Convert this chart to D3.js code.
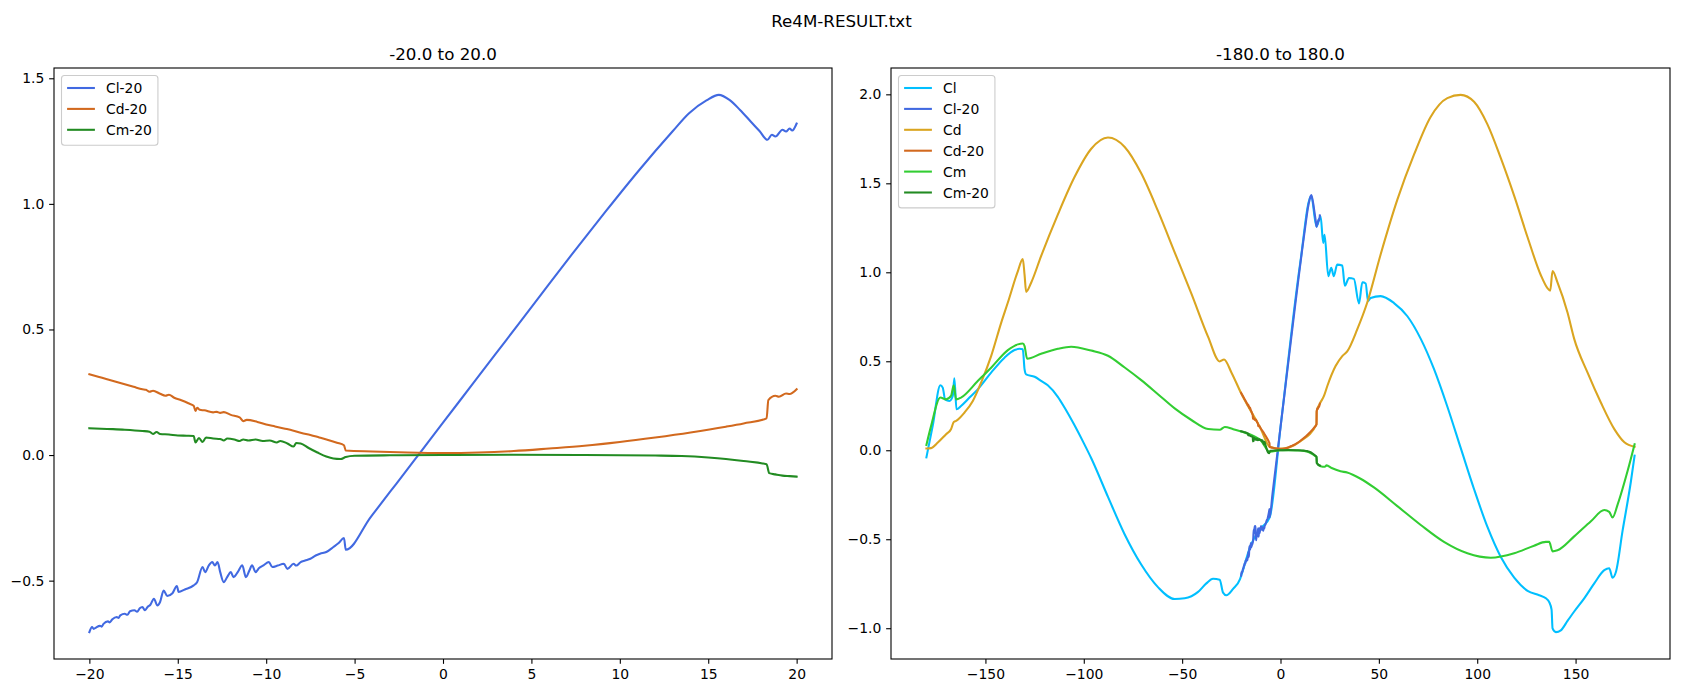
<!DOCTYPE html>
<html>
<head>
<meta charset="utf-8">
<script src="https://cdn.jsdelivr.net/npm/d3@7"></script>
<style>
  body { margin: 0; background: #fff; }
  text { font-family: "DejaVu Sans", sans-serif; fill: #000; }
</style>
</head>
<body>
<svg width="1683" height="698"></svg>
<script>

// ---- data: [alpha, coeff] ----
const cl20 = [[-20.0,-0.705],[-19.85,-0.685],[-19.75,-0.692],[-19.65,-0.688],[-19.4,-0.680],[-19.3,-0.683],[-19.2,-0.672],[-18.95,-0.662],[-18.85,-0.666],[-18.7,-0.654],[-18.45,-0.645],[-18.35,-0.649],[-18.25,-0.638],[-18.0,-0.632],[-17.85,-0.636],[-17.7,-0.622],[-17.45,-0.618],[-17.3,-0.624],[-17.15,-0.610],[-17.0,-0.605],[-16.85,-0.618],[-16.7,-0.604],[-16.55,-0.596],[-16.35,-0.572],[-16.15,-0.599],[-16.0,-0.585],[-15.8,-0.539],[-15.6,-0.561],[-15.3,-0.550],[-15.05,-0.521],[-14.95,-0.545],[-14.6,-0.535],[-14.1,-0.519],[-13.9,-0.505],[-13.6,-0.446],[-13.45,-0.466],[-13.25,-0.440],[-13.05,-0.426],[-12.9,-0.440],[-12.75,-0.426],[-12.6,-0.466],[-12.4,-0.506],[-12.2,-0.485],[-12.0,-0.466],[-11.85,-0.486],[-11.6,-0.465],[-11.35,-0.439],[-11.15,-0.486],[-10.95,-0.460],[-10.8,-0.439],[-10.6,-0.466],[-10.4,-0.450],[-10.15,-0.439],[-9.85,-0.426],[-9.65,-0.446],[-9.35,-0.440],[-9.0,-0.433],[-8.8,-0.453],[-8.45,-0.433],[-8.3,-0.440],[-8.05,-0.426],[-7.8,-0.420],[-7.5,-0.413],[-7.2,-0.400],[-6.95,-0.393],[-6.6,-0.386],[-6.2,-0.366],[-5.9,-0.350],[-5.6,-0.330],[-5.5,-0.377],[-4.1,-0.248],[-3.0,-0.147],[-2.2,-0.074],[-1.3,0.009],[0.0,0.129],[1.7,0.285],[3.6,0.460],[5.5,0.635],[7.3,0.800],[9.2,0.970],[11.1,1.135],[13.0,1.290],[13.9,1.360],[14.9,1.412],[15.6,1.434],[16.2,1.414],[16.8,1.374],[17.4,1.328],[17.9,1.290],[18.35,1.255],[18.6,1.275],[18.8,1.268],[19.2,1.295],[19.4,1.288],[19.6,1.300],[19.75,1.292],[20.0,1.320]];

const cd20 = [[-20,0.322],[-19.5,0.312],[-19,0.302],[-18.5,0.292],[-18,0.282],[-17.5,0.272],[-17,0.262],[-16.8,0.260],[-16.6,0.252],[-16.4,0.256],[-16.0,0.244],[-15.7,0.236],[-15.5,0.240],[-15.2,0.228],[-14.8,0.218],[-14.4,0.206],[-14.1,0.196],[-14.0,0.176],[-13.9,0.188],[-13.75,0.180],[-13.5,0.178],[-13.0,0.170],[-12.8,0.172],[-12.6,0.168],[-12.4,0.171],[-12.0,0.160],[-11.5,0.150],[-11.3,0.135],[-11.1,0.140],[-10.5,0.132],[-10.0,0.122],[-9.5,0.114],[-9.0,0.106],[-8.5,0.098],[-8.0,0.088],[-7.5,0.080],[-7.0,0.070],[-6.5,0.060],[-6.0,0.049],[-5.6,0.039],[-5.5,0.018],[-4,0.014],[-2,0.010],[0,0.008],[2,0.010],[4,0.016],[6,0.026],[8,0.037],[10,0.052],[12,0.070],[14,0.090],[16,0.113],[17,0.126],[18.3,0.146],[18.4,0.219],[18.8,0.236],[19.0,0.232],[19.4,0.245],[19.6,0.243],[20.0,0.262]];

const cm20 = [[-20,0.107],[-19,0.104],[-18,0.101],[-17,0.096],[-16.6,0.093],[-16.4,0.084],[-16.2,0.092],[-16.0,0.084],[-15.5,0.082],[-15,0.078],[-14.5,0.077],[-14.1,0.076],[-14.0,0.050],[-13.8,0.068],[-13.6,0.052],[-13.4,0.070],[-13,0.066],[-12.6,0.064],[-12.4,0.058],[-12.2,0.066],[-11.8,0.062],[-11.5,0.056],[-11.3,0.062],[-11,0.058],[-10.6,0.062],[-10.2,0.056],[-9.8,0.058],[-9.4,0.050],[-9.2,0.056],[-8.8,0.046],[-8.45,0.034],[-8.3,0.048],[-8.05,0.046],[-7.6,0.028],[-7.1,0.010],[-6.6,-0.006],[-6.2,-0.014],[-5.8,-0.016],[-5.5,-0.008],[-5.0,-0.003],[-3,-0.001],[0,0.000],[4,0.001],[8,0.000],[12,-0.002],[13.5,-0.004],[15,-0.010],[16,-0.016],[17,-0.024],[18.3,-0.037],[18.45,-0.072],[18.8,-0.077],[19.2,-0.082],[19.6,-0.084],[20,-0.086]];

const clFull = [[-180,-0.040],[-176.8,0.137],[-172.9,0.365],[-171.7,0.352],[-170.5,0.286],[-168.3,0.277],[-166.6,0.305],[-165.8,0.404],[-164.7,0.230],[-162.4,0.249],[-158.1,0.296],[-153.9,0.342],[-147.1,0.436],[-140.3,0.520],[-135.2,0.563],[-132.7,0.570],[-131.0,0.567],[-130.1,0.454],[-129.3,0.426],[-125.0,0.413],[-121.7,0.390],[-118.3,0.365],[-113.2,0.300],[-109.8,0.240],[-104.7,0.140],[-100,0.040],[-96.2,-0.045],[-87.7,-0.262],[-79.2,-0.473],[-70.8,-0.642],[-62.3,-0.769],[-53.8,-0.836],[-48.7,-0.832],[-41.9,-0.796],[-37.7,-0.748],[-34.3,-0.722],[-30.9,-0.727],[-29.2,-0.800],[-27.5,-0.815],[-24.1,-0.779],[-20.7,-0.727],[-20,-0.705],[-15,-0.530],[-10,-0.440],[-5.5,-0.377],[0,0.129],[10,1.050],[15.6,1.430],[18.3,1.258],[20.4,1.314],[21.7,1.165],[22.4,1.211],[24.3,0.978],[25.8,1.025],[27.1,0.978],[28.8,1.043],[31.4,1.038],[32.7,0.925],[34.8,0.968],[37.3,0.963],[39.9,0.825],[41.6,0.944],[43.3,0.937],[44.5,0.838],[45.8,0.856],[50.9,0.866],[57.7,0.827],[64.5,0.753],[71.3,0.626],[78.0,0.457],[84.8,0.246],[91.6,0.013],[98.4,-0.219],[105.2,-0.431],[112.0,-0.600],[118.8,-0.716],[125.6,-0.790],[131.5,-0.815],[134.9,-0.832],[136.6,-0.853],[137.8,-0.896],[138.3,-1.001],[140.0,-1.022],[142.5,-1.012],[145.9,-0.959],[149.3,-0.906],[154.4,-0.832],[159.5,-0.748],[164.6,-0.674],[167.1,-0.663],[168.8,-0.716],[170.5,-0.684],[173.9,-0.452],[178.1,-0.177],[180,-0.030]];

const cdFull = [[-180,0.010],[-177.6,0.012],[-174.2,0.043],[-170.0,0.090],[-167.5,0.118],[-166.1,0.159],[-164.9,0.165],[-160.7,0.211],[-156.4,0.277],[-152.2,0.380],[-147.1,0.529],[-142.0,0.716],[-138.6,0.830],[-133.5,1.007],[-131.0,1.075],[-130.1,0.985],[-129.3,0.890],[-126.7,0.943],[-121.7,1.091],[-113.2,1.324],[-104.7,1.535],[-96.2,1.694],[-87.7,1.757],[-79.2,1.704],[-70.8,1.556],[-62.3,1.345],[-53.8,1.112],[-45.3,0.880],[-36.8,0.637],[-30.9,0.499],[-28.7,0.510],[-24.9,0.436],[-20,0.320],[-10,0.120],[-5.5,0.020],[0,0.008],[10,0.050],[18.3,0.146],[18.4,0.220],[20,0.262],[22.1,0.305],[23.8,0.361],[28.0,0.473],[31.4,0.529],[34.0,0.557],[39.0,0.679],[44.1,0.830],[50.9,1.100],[59.4,1.408],[67.9,1.662],[76.3,1.873],[84.8,1.979],[91.6,1.997],[98.4,1.958],[105.2,1.831],[112.0,1.641],[118.8,1.429],[125.6,1.197],[132.3,0.985],[135.7,0.911],[137.1,0.897],[138.3,1.007],[140.8,0.943],[145.9,0.774],[149.3,0.626],[156.1,0.436],[162.9,0.267],[169.7,0.119],[174.8,0.045],[180,0.020]];

const cmFull = [[-180,0.030],[-177.6,0.137],[-172.9,0.296],[-170.0,0.286],[-167.5,0.305],[-166.1,0.365],[-164.9,0.286],[-162.4,0.296],[-153.9,0.389],[-147.1,0.464],[-138.6,0.563],[-133.5,0.595],[-131.0,0.600],[-130.1,0.585],[-128.8,0.514],[-121.7,0.542],[-113.2,0.570],[-106.4,0.582],[-96.2,0.560],[-87.7,0.531],[-79.2,0.465],[-70.8,0.394],[-62.3,0.315],[-53.8,0.235],[-45.3,0.170],[-36.8,0.119],[-30.9,0.115],[-28.3,0.131],[-24,0.118],[-20,0.105],[-10,0.055],[-5.5,-0.008],[0,0.000],[10,-0.001],[18.3,-0.037],[18.5,-0.072],[20.4,-0.090],[22.5,-0.093],[23.4,-0.085],[26,-0.100],[30.5,-0.118],[33.9,-0.125],[40.7,-0.160],[47.5,-0.209],[59.4,-0.314],[71.3,-0.420],[83.1,-0.515],[95.0,-0.579],[106.9,-0.604],[118.8,-0.579],[128.9,-0.536],[134.9,-0.515],[136.6,-0.515],[138.3,-0.568],[140.8,-0.562],[149.3,-0.484],[157.8,-0.399],[164.6,-0.336],[167.1,-0.346],[168.8,-0.378],[171.4,-0.304],[176.5,-0.114],[180,0.034]];

// tick labels
const xTicksLeft = [-20, -15, -10, -5, 0, 5, 10, 15, 20];
const yTicksLeft = [-0.5, 0.0, 0.5, 1.0, 1.5];
const xTicksRight = [-150, -100, -50, 0, 50, 100, 150];
const yTicksRight = [-1.0, -0.5, 0.0, 0.5, 1.0, 1.5, 2.0];

const suptitle = "Re4M-RESULT.txt";

// matplotlib named colours
const colors = {
  "Cl": "#00BFFF", "Cl-20": "#4169E1",
  "Cd": "#DAA520", "Cd-20": "#D2691E",
  "Cm": "#32CD32", "Cm-20": "#228B22"
};

const svg = d3.select("svg");
const plotTop = 68, plotBottom = 659;

svg.append("text")
  .attr("x", 841.5).attr("y", 26.5)
  .attr("text-anchor", "middle")
  .style("font-size", "16.7px")
  .text(suptitle);

const panels = [
  {title: "-20.0 to 20.0", left: 54, right: 832, xTicks: xTicksLeft, yTicks: yTicksLeft,
   series: [["Cl-20", cl20], ["Cd-20", cd20], ["Cm-20", cm20]]},
  {title: "-180.0 to 180.0", left: 891, right: 1670, xTicks: xTicksRight, yTicks: yTicksRight,
   series: [["Cl", clFull], ["Cl-20", cl20], ["Cd", cdFull], ["Cd-20", cd20], ["Cm", cmFull], ["Cm-20", cm20]]}
];

// 5% margins like matplotlib autoscale
function padded(ext){
  const m = (ext[1] - ext[0]) * 0.05;
  return [ext[0] - m, ext[1] + m];
}

panels.forEach(p => {
  const all = p.series.flatMap(s => s[1]);
  const x = d3.scaleLinear().domain(padded(d3.extent(all, d => d[0]))).range([p.left, p.right]);
  const y = d3.scaleLinear().domain(padded(d3.extent(all, d => d[1]))).range([plotBottom, plotTop]);

  const g = svg.append("g");

  // lines (monotone curve so the sparse readings don't look like a polygon)
  const line = d3.line().x(d => x(d[0])).y(d => y(d[1])).curve(d3.curveMonotoneX);
  p.series.forEach(s => {
    g.append("path")
      .attr("d", line(s[1]))
      .attr("fill", "none")
      .attr("stroke", colors[s[0]])
      .attr("stroke-width", 2.08)
      .attr("stroke-linejoin", "round")
      .attr("stroke-linecap", "square");
  });

  // axes
  const xa = g.append("g").attr("transform", "translate(0," + plotBottom + ")")
    .call(d3.axisBottom(x).tickValues(p.xTicks).tickFormat(d3.format("d")).tickSize(4.86).tickPadding(4.86).tickSizeOuter(0));
  const ya = g.append("g").attr("transform", "translate(" + p.left + ",0)")
    .call(d3.axisLeft(y).tickValues(p.yTicks).tickFormat(d3.format(".1f")).tickSize(4.86).tickPadding(4.86).tickSizeOuter(0));
  [xa, ya].forEach(a => {
    a.select(".domain").remove();
    a.selectAll("line").attr("stroke", "#000").attr("stroke-width", 1.1);
    a.selectAll("text").style("font-size", "13.9px").style("font-family", "DejaVu Sans").attr("fill", "#000");
  });

  // frame
  g.append("rect")
    .attr("x", p.left).attr("y", plotTop)
    .attr("width", p.right - p.left).attr("height", plotBottom - plotTop)
    .attr("fill", "none").attr("stroke", "#000").attr("stroke-width", 1.1);

  g.append("text")
    .attr("x", (p.left + p.right) / 2).attr("y", 60)
    .attr("text-anchor", "middle")
    .style("font-size", "16.7px")
    .text(p.title);

  // legend, upper left
  const lg = g.append("g");
  const box = lg.append("rect");
  const lx = p.left + 7.5, ly = plotTop + 7.5, rowH = 20.9;
  let maxW = 0;
  p.series.forEach((s, i) => {
    const cy = ly + 12.5 + i * rowH;
    lg.append("line")
      .attr("x1", lx + 5.6).attr("x2", lx + 5.6 + 27.8)
      .attr("y1", cy).attr("y2", cy)
      .attr("stroke", colors[s[0]]).attr("stroke-width", 2.08);
    const t = lg.append("text")
      .attr("x", lx + 5.6 + 27.8 + 11.1).attr("y", cy + 5)
      .style("font-size", "13.9px")
      .text(s[0]);
    maxW = Math.max(maxW, t.node().getComputedTextLength());
  });
  box.attr("x", lx).attr("y", ly)
    .attr("width", 5.6 + 27.8 + 11.1 + maxW + 6)
    .attr("height", 5 + p.series.length * rowH + 2)
    .attr("rx", 3)
    .attr("fill", "#fff").attr("fill-opacity", 0.8)
    .attr("stroke", "#cccccc").attr("stroke-width", 1.1);
});

</script>
</body>
</html>
